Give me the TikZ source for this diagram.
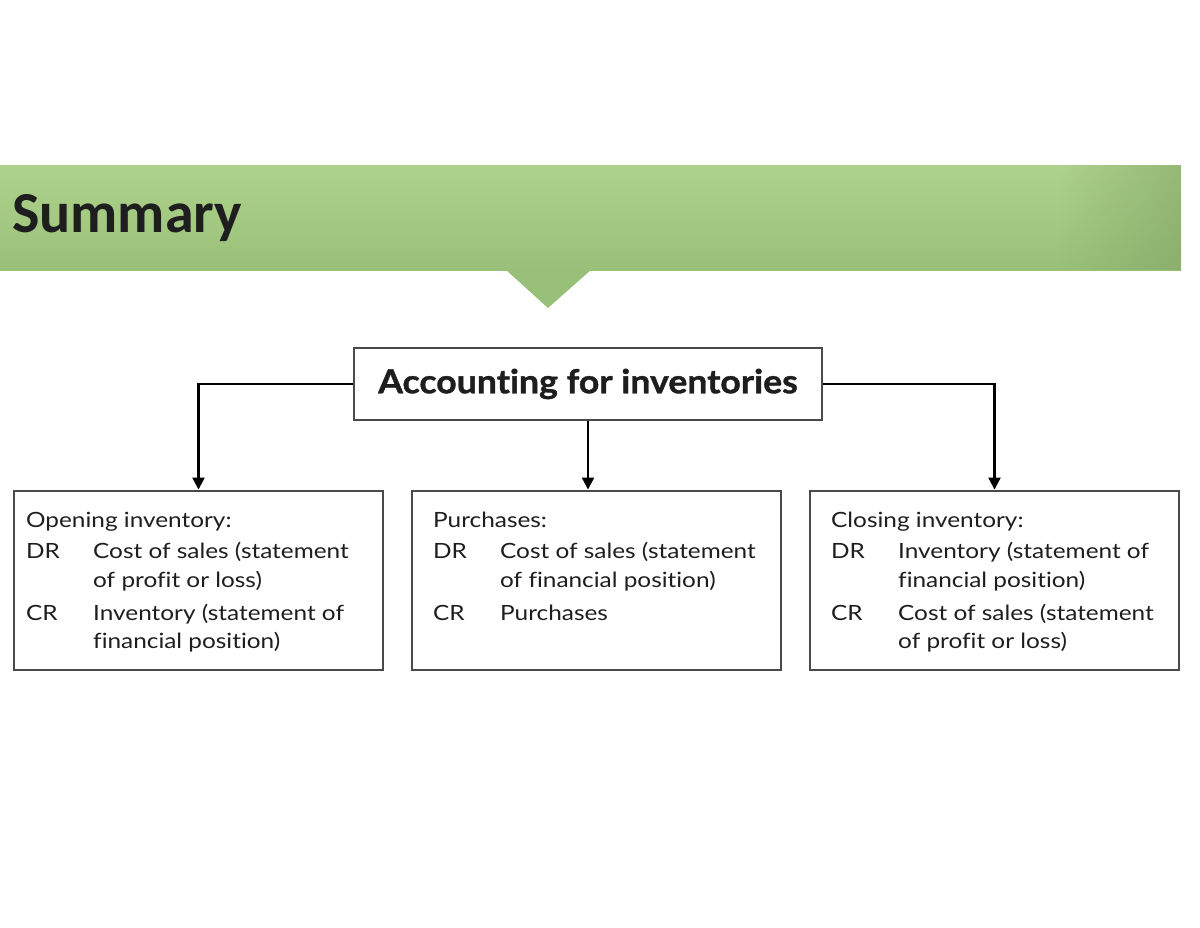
\documentclass[tikz,border=0pt]{standalone}
\usepackage{fontspec}
\setmainfont{Lato}[Ligatures=NoCommon]
\newfontfamily\bodyfam{Lato}[FakeStretch=1.16, Ligatures=NoCommon]
\newfontfamily\titlefam{Lato}[FakeStretch=1.08, FakeBold=1.2, Ligatures=NoCommon]
\newfontfamily\headfont{Carlito}
\usetikzlibrary{arrows.meta,shadings,fadings}
\definecolor{bantop}{HTML}{ADD28C}
\definecolor{banbot}{HTML}{99C078}
\definecolor{boxline}{HTML}{4A4A4A}
\definecolor{textc}{HTML}{1E1E1E}
\newcommand{\bodyfont}{\bodyfam\fontsize{21}{24}\selectfont}
\tikzset{
  entrybox/.style={draw=boxline, line width=2.9pt, fill=white, minimum width=369pt, minimum height=179pt, inner sep=0pt},
  titlebox/.style={draw=boxline, line width=2.9pt, fill=white, minimum width=468pt, minimum height=72pt, inner sep=0pt},
  txt/.style={anchor=base west, inner sep=0pt, font=\bodyfont, text=textc},
  conn/.style={draw=black, line width=2.2pt, -{Triangle[width=12pt,length=12pt]}},
}
\begin{document}
\begin{tikzpicture}[x=1pt,y=-1pt]
\useasboundingbox (0,0) rectangle (1200,927);
\fill[white] (0,0) rectangle (1200,927);
% banner
\shade[top color=bantop, bottom color=banbot] (0,165) rectangle (1181,270);
\fill[banbot!80!black, path fading=west, opacity=0.45] (1060,165) rectangle (1181,270);
\fill[banbot] (505,269) -- (592,269) -- (548,308) -- cycle;
\node[anchor=base west, inner sep=0pt, font=\headfont\bfseries\fontsize{58}{60}\selectfont, text=textc] (summary) at (12,232) {Summary};
% title box
\node[titlebox, font=\titlefam\bfseries\fontsize{33}{36}\selectfont, text=textc] (top) at (588,384) {Accounting for inventories};
% entry boxes
\node[entrybox] (left) at (198.5,580.5) {};
\node[entrybox] (mid) at (596.5,580.5) {};
\node[entrybox] (right) at (994.5,580.5) {};
% connectors
\draw[conn] (top.west) -| (left.north);
\draw[conn] (top.south) -- (top.south |- mid.north);
\draw[conn] (top.east) -| (right.north);
% left text
\node[txt] (l0) at (26,527) {Opening inventory:};
\node[txt] (l1a) at (26,558) {DR};
\node[txt] (l1b) at (93,558) {Cost of sales (statement};
\node[txt] (l1c) at (93,587) {of profit or loss)};
\node[txt] (l2a) at (26,620) {CR};
\node[txt] (l2b) at (93,620) {Inventory (statement of};
\node[txt] (l2c) at (93,648) {financial position)};
% middle text
\node[txt] (m0) at (433,527) {Purchases:};
\node[txt] (m1a) at (433,558) {DR};
\node[txt] (m1b) at (500,558) {Cost of sales (statement};
\node[txt] (m1c) at (500,587) {of financial position)};
\node[txt] (m2a) at (433,620) {CR};
\node[txt] (m2b) at (500,620) {Purchases};
% right text
\node[txt] (r0) at (831,527) {Closing inventory:};
\node[txt] (r1a) at (831,558) {DR};
\node[txt] (r1b) at (898,558) {Inventory (statement of};
\node[txt] (r1c) at (898,587) {financial position)};
\node[txt] (r2a) at (831,620) {CR};
\node[txt] (r2b) at (898,620) {Cost of sales (statement};
\node[txt] (r2c) at (898,648) {of profit or loss)};
\end{tikzpicture}
\end{document}
